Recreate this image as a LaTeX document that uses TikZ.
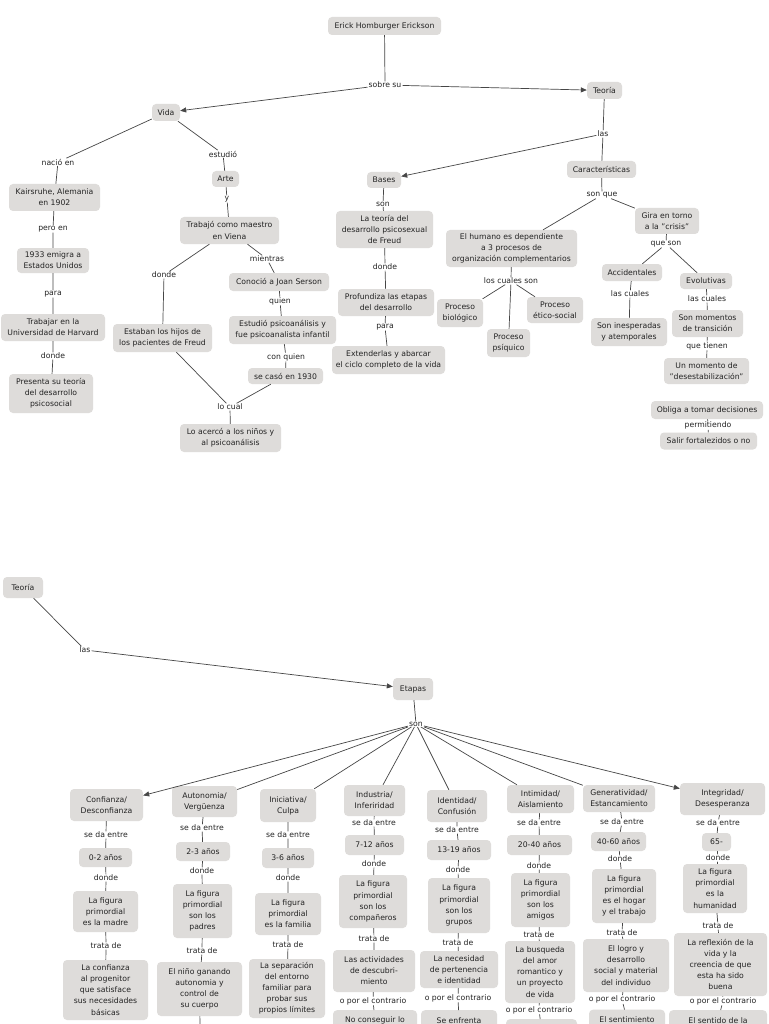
\documentclass[tikz,border=0pt]{standalone}
\usepackage{fontspec}
\setmainfont{DejaVu Sans}
\usetikzlibrary{arrows.meta}
\definecolor{boxgray}{RGB}{222,220,218}
\definecolor{txtc}{RGB}{35,35,35}
\definecolor{linec}{RGB}{70,70,70}
\newcommand\mapfont{\fontsize{7.7pt}{11.1pt}\selectfont}
\newcommand\mB[5]{\node[box,minimum width=#4,minimum height=#5] (#1) at (#2) {#3};}
\newcommand\mL[3]{\node[lbl] (#1) at (#2) {#3};}
\begin{document}
\begin{tikzpicture}[x=1pt,y=-1pt,
 box/.style={fill=boxgray, rounded corners=4pt, align=center, inner xsep=3pt, inner ysep=2pt, text=txtc, font=\mapfont},
 cutbox/.style={box, anchor=north, inner ysep=1.5pt, minimum height=20},
 lbl/.style={inner xsep=1pt, inner ysep=0.5pt, text=txtc, font=\mapfont},
 con/.style={draw=linec, line width=0.7pt},
 arr/.style={con, -{Triangle[length=6pt,width=5pt]}}]
\useasboundingbox (0,0) rectangle (768,1024);
\clip (0,0) rectangle (768,1024);
\fill[white] (0,0) rectangle (768,1024);
% ---------- top map ----------
\mB{erick}{384.5,26}{Erick Homburger Erickson}{113}{18}
\mL{sobre}{385,85}{sobre su}
\mB{vida}{166,112.5}{Vida}{28}{17}
\mB{teoria}{604.5,90.5}{Teoría}{35}{17}
\mL{las}{603,134}{las}
\mB{bases}{384,180}{Bases}{34}{16}
\mB{caract}{601.5,169.5}{Características}{69}{17}
\mL{sonque}{602,195}{son que}
\mB{gira}{667,221}{Gira en torno\\a la "crisis"}{64}{26}
\mB{humano}{511.5,248.5}{El humano es dependiente\\a 3 procesos de\\organización complementarios}{131}{37}
\mL{loscuales}{511,281}{los cuales son}
\mB{biol}{460,313}{Proceso\\biológico}{46}{28}
\mB{psiq}{508.5,343}{Proceso\\psíquico}{43}{28}
\mB{etico}{555,310}{Proceso\\ético-social}{56}{26}
\mL{queson}{666,244}{que son}
\mB{accid}{632,272.5}{Accidentales}{60}{17}
\mL{lc1}{630,294}{las cuales}
\mB{inesp}{629,332}{Son inesperadas\\y atemporales}{76}{28}
\mB{evol}{706,281}{Evolutivas}{52}{16}
\mL{lc2}{707,299}{las cuales}
\mB{momentos}{707.5,323.5}{Son momentos\\de transición}{71}{27}
\mL{quetienen}{707,346}{que tienen}
\mB{desest}{706.5,371}{Un momento de\\"desestabilización"}{85}{26}
\mB{obliga}{707,410}{Obliga a tomar decisiones}{112}{18}
\mL{permit}{708,425.5}{permitiendo}
\mB{salir}{708.5,441}{Salir fortalezidos o no}{97}{17}
\mL{nacio}{58,162}{nació en}
\mB{kairs}{54.5,197.5}{Kairsruhe, Alemania\\en 1902}{91}{27}
\mL{peroen}{53,229}{pero en}
\mB{emigra}{53,260.5}{1933 emigra a\\Estados Unidos}{72}{25}
\mL{para1}{53,294}{para}
\mB{harvard}{53,327.5}{Trabajar en la\\Universidad de Harvard}{104}{27}
\mL{donde1}{53,356}{donde}
\mB{presenta}{51,393.5}{Presenta su teoría\\del desarrollo\\psicosocial}{84}{39}
\mL{estudio}{223,154}{estudió}
\mB{arte}{225.5,179}{Arte}{27}{16}
\mL{y}{227,199}{y}
\mB{trabajo}{229.5,230.5}{Trabajó como maestro\\en Viena}{99}{27}
\mL{donde2}{164,275}{donde}
\mL{mientras}{267,259}{mientras}
\mB{conocio}{279,282}{Conoció a Joan Serson}{100}{18}
\mL{quien}{280,301}{quien}
\mB{estud2}{282.5,330}{Estudió psicoanálisis y\\fue psicoanalista infantil}{107}{28}
\mL{conquien}{286,357}{con quien}
\mB{casado}{285.5,376}{se casó en 1930}{75}{16}
\mB{estaban}{162.5,338}{Estaban los hijos de\\los pacientes de Freud}{99}{28}
\mL{locual}{230,407}{lo cual}
\mB{acerco}{230.5,438}{Lo acercó a los niños y\\al psicoanálisis}{101}{28}
\mL{son1}{383,204}{son}
\mB{teoriaF}{384.5,229.5}{La teoría del\\desarrollo psicosexual\\de Freud}{97}{37}
\mL{donde3}{385,267}{donde}
\mB{profund}{386,302.5}{Profundiza las etapas\\del desarrollo}{96}{27}
\mL{para2}{385,327}{para}
\mB{extender}{388.5,360}{Extenderlas y abarcar\\el ciclo completo de la vida}{113}{28}
\draw[con] (erick)--(sobre);
\draw[arr] (sobre)--(vida);
\draw[arr] (sobre)--(teoria);
\draw[con] (teoria)--(las) (las)--(caract);
\draw[arr] (las)--(bases);
\draw[con] (caract)--(sonque) (sonque)--(humano) (sonque)--(gira);
\draw[con] (humano)--(loscuales) (loscuales)--(biol) (loscuales)--(psiq) (loscuales)--(etico);
\draw[con] (gira)--(queson) (queson)--(accid) (queson)--(evol);
\draw[con] (accid)--(lc1) (lc1)--(inesp);
\draw[con] (evol)--(lc2) (lc2)--(momentos) (momentos)--(quetienen) (quetienen)--(desest);
\draw[con] (obliga)--(permit) (permit)--(salir);
\draw[con] (bases)--(son1) (son1)--(teoriaF) (teoriaF)--(donde3) (donde3)--(profund) (profund)--(para2) (para2)--(extender);
\draw[con] (vida)--(nacio) (nacio)--(kairs) (kairs)--(peroen) (peroen)--(emigra) (emigra)--(para1) (para1)--(harvard) (harvard)--(donde1) (donde1)--(presenta);
\draw[con] (vida)--(estudio) (estudio)--(arte) (arte)--(y) (y)--(trabajo);
\draw[con] (trabajo)--(donde2) (donde2)--(estaban);
\draw[con] (trabajo)--(mientras) (mientras)--(conocio) (conocio)--(quien) (quien)--(estud2) (estud2)--(conquien) (conquien)--(casado);
\draw[con] (estaban)--(locual) (casado)--(locual) (locual)--(acerco);
% ---------- bottom map ----------
\mB{teoria2}{23,587.5}{Teoría}{40}{21}
\mL{las2}{85,650}{las}
\mB{etapas}{413,689}{Etapas}{40}{22}
\mL{son2}{416,724}{son}
% column 1
\mB{s1}{106.5,805}{Confianza/\\Desconfianza}{73}{32}
\mL{d1}{106,835}{se da entre}
\mB{a1}{105.5,857.5}{0-2 años}{53}{19}
\mL{w1}{106,878}{donde}
\mB{f1}{105.5,911.5}{La figura\\primordial\\es la madre}{65}{41}
\mL{t1}{106,946}{trata de}
\mB{c1}{105.5,990}{La confianza\\al progenitor\\que satisface\\sus necesidades\\básicas}{85}{60}
% column 2
\mB{s2}{204.5,801.5}{Autonomia/\\Vergüenza}{65}{31}
\mL{d2}{202,828}{se da entre}
\mB{a2}{203,851.5}{2-3 años}{54}{19}
\mL{w2}{202,871}{donde}
\mB{f2}{202.5,911}{La figura\\primordial\\son los\\padres}{59}{54}
\mL{t2}{202,951}{trata de}
\mB{c2}{199.5,989}{El niño ganando\\autonomia y\\control de\\su cuerpo}{85}{54}
\coordinate (o2) at (200,1026);
% column 3
\mB{s3}{288,805.5}{Iniciativa/\\Culpa}{56}{33}
\mL{d3}{288,835}{se da entre}
\mB{a3}{288,858}{3-6 años}{52}{20}
\mL{w3}{288,878}{donde}
\mB{f3}{288,914}{La figura\\primordial\\es la familia}{66}{42}
\mL{t3}{288,945}{trata de}
\mB{c3}{287,988.5}{La separación\\del entorno\\familiar para\\probar sus\\propios límites}{76}{59}
% column 4
\mB{s4}{374.5,800.5}{Industria/\\Inferiridad}{61}{31}
\mL{d4}{374,823}{se da entre}
\mB{a4}{374.5,845}{7-12 años}{59}{20}
\mL{w4}{374,864}{donde}
\mB{f4}{373,901.5}{La figura\\primordial\\son los\\compañeros}{68}{53}
\mL{t4}{374,939}{trata de}
\mB{c4}{374,971}{Las actividades\\de descubri-\\miento}{82}{42}
\mL{o4}{373,1001}{o por el contrario}
\node[cutbox,minimum width=84] (n4) at (375,1010) {No conseguir lo};
% column 5
\mB{s5}{457,806}{Identidad/\\Confusión}{60}{32}
\mL{d5}{457,830}{se da entre}
\mB{a5}{459,850}{13-19 años}{64}{20}
\mL{w5}{458,870}{donde}
\mB{f5}{459,905.5}{La figura\\primordial\\son los\\grupos}{62}{55}
\mL{t5}{458,943}{trata de}
\mB{c5}{459,969.5}{La necesidad\\de pertenencia\\e identidad}{78}{37}
\mL{o5}{458,998}{o por el contrario}
\node[cutbox,minimum width=76] (n5) at (459,1010) {Se enfrenta};
% column 6
\mB{s6}{540.5,799}{Intimidad/\\Aislamiento}{67}{28}
\mL{d6}{539,823}{se da entre}
\mB{a6}{539.5,845}{20-40 años}{65}{20}
\mL{w6}{539,866}{donde}
\mB{f6}{540.5,900}{La figura\\primordial\\son los\\amigos}{59}{54}
\mL{t6}{539,935}{trata de}
\mB{c6}{540,972}{La busqueda\\del amor\\romantico y\\un proyecto\\de vida}{70}{62}
\mL{o6}{539,1010}{o por el contrario}
\node[box,anchor=north,minimum width=71,minimum height=20] (n6) at (541.5,1019) {};
% column 7
\mB{s7}{619,798.5}{Generatividad/\\Estancamiento}{72}{27}
\mL{d7}{622,822}{se da entre}
\mB{a7}{618.5,841.5}{40-60 años}{55}{19}
\mL{w7}{620,859}{donde}
\mB{f7}{624,896}{La figura\\primordial\\es el hogar\\y el trabajo}{64}{54}
\mL{t7}{622,933}{trata de}
\mB{c7}{626,965.5}{El logro y\\desarrollo\\social y material\\del individuo}{86}{53}
\mL{o7}{622,999.5}{o por el contrario}
\node[cutbox,minimum width=76] (n7) at (627,1009.5) {El sentimiento};
% column 8
\mB{s8}{722.5,799}{Integridad/\\Desesperanza}{85}{32}
\mL{d8}{718,823}{se da entre}
\mB{a8}{716.5,842}{65-}{29}{18}
\mL{w8}{718,858}{donde}
\mB{f8}{715,888.5}{La figura\\primordial\\es la\\humanidad}{64}{49}
\mL{t8}{718,926}{trata de}
\mB{c8}{720.5,964.5}{La reflexión de la\\vida y la\\creencia de que\\esta ha sido\\buena}{93}{63}
\mL{o8}{723,1001}{o por el contrario}
\node[cutbox,minimum width=98] (n8) at (718,1010) {El sentido de la};
% bottom connectors
\draw[con] (teoria2)--(las2);
\draw[arr] (las2)--(etapas);
\draw[con] (etapas)--(son2);
\draw[arr] (son2)--(s1);
\foreach \i in {2,...,7}{\draw[con] (son2)--(s\i);}
\draw[arr] (son2)--(s8);
\foreach \i in {1,...,8}{\draw[con] (s\i)--(d\i) (d\i)--(a\i) (a\i)--(w\i) (w\i)--(f\i) (f\i)--(t\i) (t\i)--(c\i);}
\foreach \i in {4,...,8}{\draw[con] (c\i)--(o\i) (o\i)--(n\i);}
\draw[con] (c2)--(o2);
\end{tikzpicture}
\end{document}
